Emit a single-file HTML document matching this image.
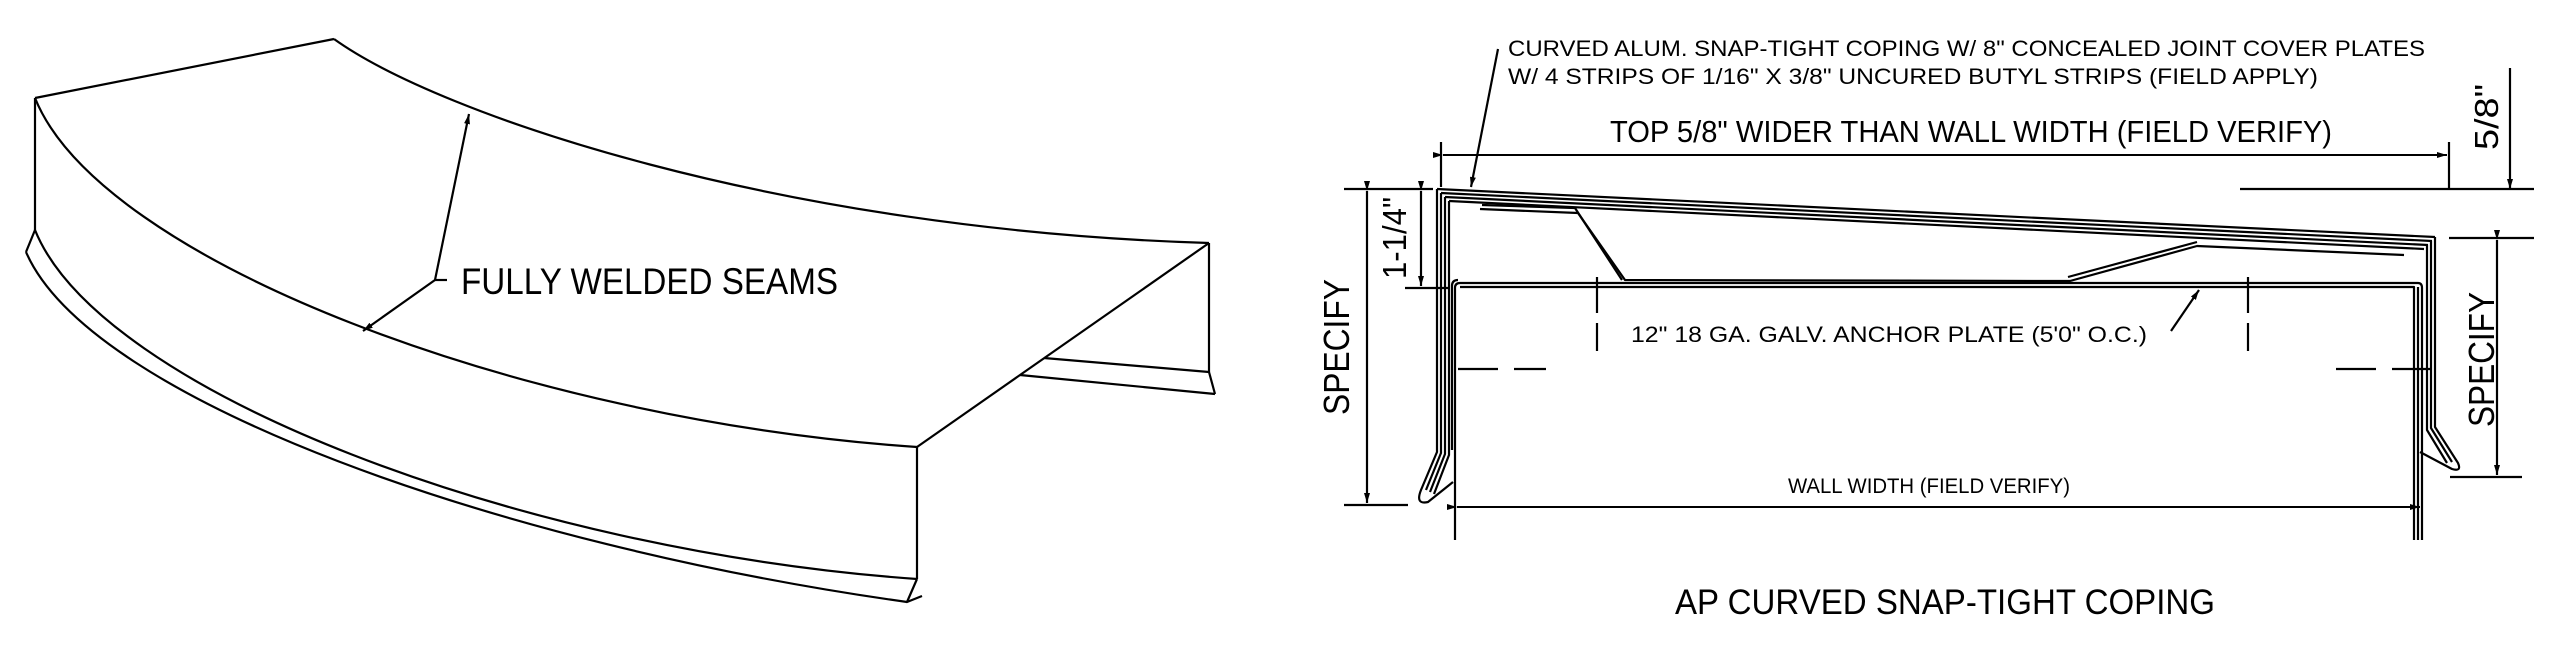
<!DOCTYPE html>
<html><head><meta charset="utf-8"><style>
html,body{margin:0;padding:0;background:#fff;}
svg{display:block;}
text{font-family:"Liberation Sans Narrow","Liberation Sans",sans-serif;fill:#000;}
</style></head><body>
<svg width="2550" height="645" viewBox="0 0 2550 645" xmlns="http://www.w3.org/2000/svg">
<defs>
<marker id="ar" viewBox="0 0 10 6" refX="10" refY="3" markerWidth="10" markerHeight="6" orient="auto" markerUnits="userSpaceOnUse"><path d="M0,0 L10,3 L0,6 z" fill="#000"/></marker>
</defs>
<g fill="none" stroke="#000" stroke-width="2.2" stroke-linejoin="round">
<!-- LEFT ISOMETRIC -->
<path d="M35,98 L334,39"/>
<path d="M334,39 C440,115 780,230 1209,243"/>
<path d="M35,98 L35,230"/>
<path d="M35,98 C100,260 520,420 917,447"/>
<path d="M917,447 L1209,243"/>
<path d="M1209,243 L1209,372"/>
<path d="M917,447 L917,579"/>
<path d="M35,230 C100,391 520,551 917,579"/>
<path d="M35,230 L26,252"/>
<path d="M26,252 C90,400 500,545 907,602"/>
<path d="M917,579 L907,602 L922,596"/>
<path d="M1044,358 L1209,372"/>
<path d="M1020,375 L1215,394"/>
<path d="M1209,372 L1215,394"/>
<path d="M435,280 L469,114" marker-end="url(#ar)"/>
<path d="M435,280 L363,331" marker-end="url(#ar)"/>
<path d="M435,280 L447,280"/>

<!-- RIGHT SECTION -->
<path d="M1498,49 L1471,187" marker-end="url(#ar)"/>
<path d="M1441,142 L1441,187"/>
<path d="M2449,142 L2449,189"/>
<path d="M1443,155 L2447,155" marker-start="url(#ar)" marker-end="url(#ar)" stroke-width="2"/>
<path d="M2510,68 L2510,189" marker-end="url(#ar)"/>
<path d="M2240,189 L2534,189"/>
<path d="M2449,238 L2534,238"/>
<path d="M2497,240 L2497,475" marker-start="url(#ar)" marker-end="url(#ar)"/>
<path d="M2450,477 L2522,477"/>
<path d="M1344,189 L1433,189"/>
<path d="M1344,505 L1408,505"/>
<path d="M1367,191 L1367,503" marker-start="url(#ar)" marker-end="url(#ar)"/>
<path d="M1421,191 L1421,286" marker-start="url(#ar)" marker-end="url(#ar)"/>
<path d="M1405,288 L1449,288"/>
<path d="M1437,189 L2435,237"/>
<path d="M1441,193 L2432,241"/>
<path d="M1445,197 L2428,245"/>
<path d="M1449,201 L2424,249"/>
<path d="M1437,189 L1437,452 L1421,490 Q1415,505 1428,502 L1453,482"/>
<path d="M1441,193 L1441,453 L1426,490"/>
<path d="M1445,197 L1445,454 L1430,492"/>
<path d="M1449,201 L1449,455 L1434,494"/>
<path d="M2435,237 L2435,427 L2458,463 Q2462,472 2452,469 L2420,452"/>
<path d="M2431,241 L2431,428 L2452,462"/>
<path d="M2427,245 L2427,430 L2447,463"/>
<path d="M1480,209 L1578,213 L1625,280 L2070,281 L2197,246 L2404,255"/>
<path d="M1482,205 L1575,208 L1622,280"/>
<path d="M2068,277 L2197,242"/>
<path d="M1455,540 L1455,288 Q1455,283 1460,283 L2418,283 Q2422,283 2422,288 L2422,540"/>
<path d="M1452,450 L1452,286 Q1452,280 1458,280"/>
<path d="M1460,287 L2414,287 L2414,540"/>
<path d="M2418,287 L2418,540"/>
<path d="M1597,277 L1597,351" stroke-dasharray="36,10"/>
<path d="M2248,277 L2248,351" stroke-dasharray="36,10"/>
<path d="M1458,369 L1546,369" stroke-dasharray="40,16"/>
<path d="M2336,369 L2437,369" stroke-dasharray="40,16"/>
<path d="M2171,331 L2199,290" marker-end="url(#ar)"/>
<path d="M1457,507 L2420,507" marker-start="url(#ar)" marker-end="url(#ar)" stroke-width="2"/>
</g>

<text x="461" y="294" font-size="37" textLength="377" lengthAdjust="spacingAndGlyphs">FULLY WELDED SEAMS</text>

<text x="1508" y="56" font-size="22" textLength="917" lengthAdjust="spacingAndGlyphs">CURVED ALUM. SNAP-TIGHT COPING W/ 8" CONCEALED JOINT COVER PLATES</text>
<text x="1508" y="84" font-size="22" textLength="810" lengthAdjust="spacingAndGlyphs">W/ 4 STRIPS OF 1/16" X 3/8" UNCURED BUTYL STRIPS (FIELD APPLY)</text>
<text x="1610" y="142" font-size="31" textLength="722" lengthAdjust="spacingAndGlyphs">TOP 5/8" WIDER THAN WALL WIDTH (FIELD VERIFY)</text>
<text x="1631" y="342" font-size="22" textLength="516" lengthAdjust="spacingAndGlyphs">12" 18 GA. GALV. ANCHOR PLATE (5'0" O.C.)</text>
<text x="1788" y="493" font-size="21" textLength="282" lengthAdjust="spacingAndGlyphs">WALL WIDTH (FIELD VERIFY)</text>
<text x="1675" y="614" font-size="35" textLength="540" lengthAdjust="spacingAndGlyphs">AP CURVED SNAP-TIGHT COPING</text>

<text transform="translate(1349,415) rotate(-90)" font-size="36" textLength="136" lengthAdjust="spacingAndGlyphs">SPECIFY</text>
<text transform="translate(1406,279) rotate(-90)" font-size="33" textLength="82" lengthAdjust="spacingAndGlyphs">1-1/4"</text>
<text transform="translate(2494,427) rotate(-90)" font-size="36" textLength="135" lengthAdjust="spacingAndGlyphs">SPECIFY</text>
<text transform="translate(2498,150) rotate(-90)" font-size="33" textLength="66" lengthAdjust="spacingAndGlyphs">5/8"</text>
</svg>
</body></html>
